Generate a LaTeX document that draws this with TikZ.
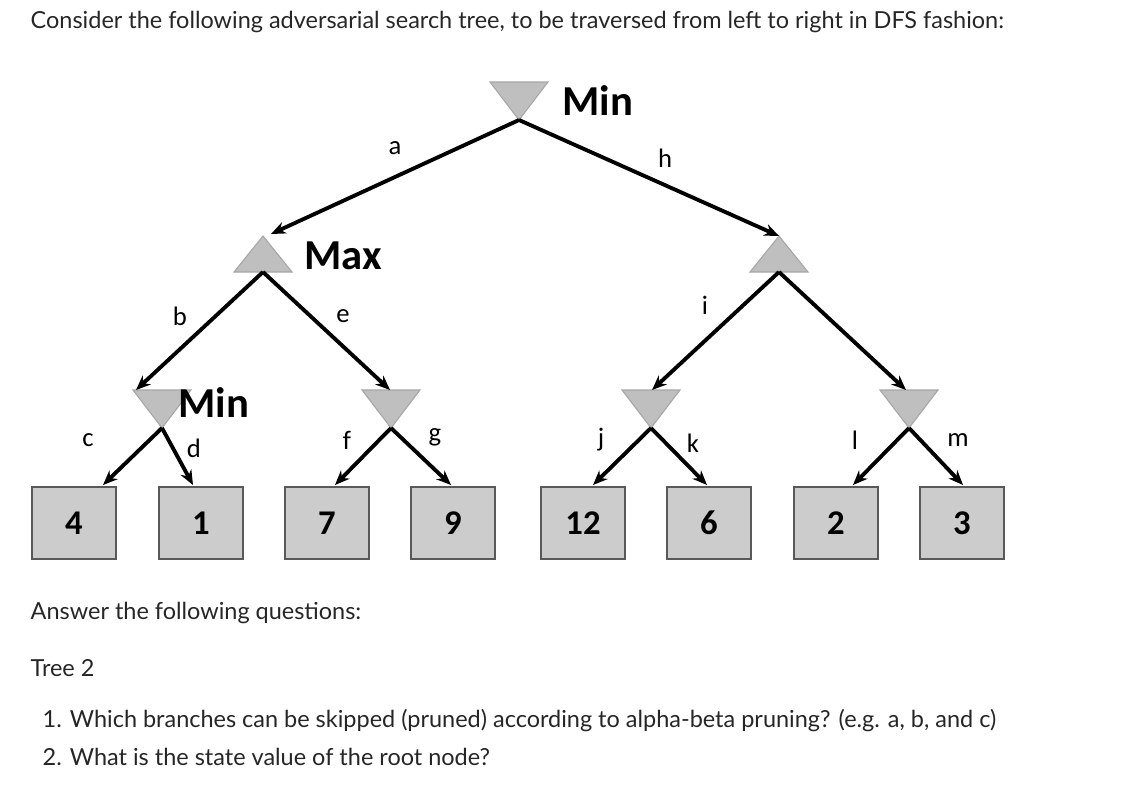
\documentclass[tikz,border=0pt]{standalone}
\usepackage{fontspec}
\setmainfont{Lato}
\newfontfamily\dia{Carlito}
\usetikzlibrary{arrows.meta}
\begin{document}
\begin{tikzpicture}[x=0.75pt,y=-0.75pt,
 edge/.style={line width=2.9pt,-{Stealth[length=11pt,width=9pt]}},
 tri/.style={fill=black!25,draw=black!35,line width=0.8pt},
 leaf/.style={draw=black!65,fill=black!20,line width=0.8pt,minimum width=63pt,minimum height=54pt,font=\dia\fontsize{26}{28}\selectfont\bfseries},
 lab/.style={font=\dia\fontsize{20}{22}\selectfont},
 kind/.style={font=\dia\fontsize{32}{34}\selectfont\bfseries},
 txt/.style={anchor=west,font=\fontsize{17.6}{20}\selectfont,text=black!85}]
\useasboundingbox (0,0) rectangle (1123,785);
\node[txt] (t0) at (26,22) {Consider the following adversarial search tree, to be traversed from left to right in DFS fashion:};
\newcommand\dtri[3]{\draw[tri] (#1-29,#2-38) -- (#1+29,#2-38) -- (#1,#2) -- cycle; \coordinate (#3) at (#1,#2); \coordinate (#3t) at (#1,#2-38);}
\newcommand\utri[3]{\draw[tri] (#1-29,#2+36) -- (#1+29,#2+36) -- (#1,#2) -- cycle; \coordinate (#3) at (#1,#2+36); \coordinate (#3t) at (#1,#2);}
\dtri{519}{120}{r}
\utri{263}{236}{m1}
\utri{779}{236}{m2}
\dtri{162}{428}{n1}
\dtri{391}{428}{n2}
\dtri{651}{428}{n3}
\dtri{909}{428}{n4}
\node[kind] (kr) at (598,101) {Min};
\node[kind] (km) at (343,256) {Max};
\node[kind] (kn) at (214,403) {Min};
\foreach \x/\v/\n in {74/4/l1,201/1/l2,327/7/l3,453/9/l4,583/12/l5,709/6/l6,836/2/l7,962/3/l8}
  \node[leaf] (\n) at (\x,523) {\v};
\draw[edge] (r) -- (271,234);
\draw[edge] (r) -- (779,236);
\draw[edge] (m1) -- (136,390);
\draw[edge] (m1) -- (390,390);
\draw[edge] (m2) -- (652,390);
\draw[edge] (m2) -- (906,390);
\draw[edge] (n1) -- (103,485);
\draw[edge] (n1) -- (193,485);
\draw[edge] (n2) -- (335,485);
\draw[edge] (n2) -- (451,485);
\draw[edge] (n3) -- (593,485);
\draw[edge] (n3) -- (707,485);
\draw[edge] (n4) -- (853,485);
\draw[edge] (n4) -- (963,485);
\foreach \x/\y/\t in {395/148/a,665/158/h,180/316/b,343/316/e,705/305/i,88/440/c,194/448/d,347/440/f,435/437/g,601/440/j,693/443/k,855/440/l,958/440/m}
  \node[lab] (lab\t) at (\x,\y) {\t};
\node[txt] (t1) at (26,613) {Answer the following questions:};
\node[txt] (t2) at (26,668) {Tree 2};
\node[txt] (t3) at (38,721) {1. Which branches can be skipped (pruned) according to alpha-beta pruning? (e.g. a, b, and c)};
\node[txt] (t4) at (38,757) {2. What is the state value of the root node?};
\end{tikzpicture}
\end{document}
